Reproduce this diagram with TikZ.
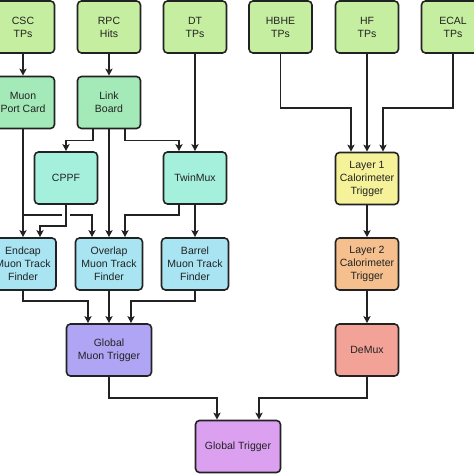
\documentclass[tikz,border=0pt]{standalone}
\usepackage{fontspec}
\setmainfont{Liberation Sans}
\usetikzlibrary{arrows.meta,calc}
\definecolor{tpgreen}{HTML}{C6EEA0}
\definecolor{boardgreen}{HTML}{A3EAB8}
\definecolor{aqua}{HTML}{A5F0DC}
\definecolor{tfblue}{HTML}{A8E4F2}
\definecolor{gmtpurple}{HTML}{B0A4F4}
\definecolor{gtpink}{HTML}{DBA0F0}
\definecolor{lyellow}{HTML}{F6F29A}
\definecolor{lorange}{HTML}{F5C08E}
\definecolor{dmred}{HTML}{F2A296}
\definecolor{ink}{HTML}{222222}
\begin{document}
\begin{tikzpicture}[x=1pt,y=-1pt,
  box/.style={draw=ink,line width=1.6pt,rounded corners=4pt,minimum width=63pt,minimum height=52pt,
    align=center,inner sep=1pt,text=ink,font=\fontsize{10.5}{13}\selectfont},
  arr/.style={draw=ink,line width=1.6pt,-{Stealth[length=7pt,width=7pt,inset=1.5pt]}},
  ln/.style={draw=ink,line width=1.6pt}]
\useasboundingbox[fill=white] (0,0) rectangle (474,474);
% top row
\node[box,fill=tpgreen] (csc) at (23,27) {CSC\\TPs};
\node[box,fill=tpgreen] (rpc) at (109,27) {RPC\\Hits};
\node[box,fill=tpgreen] (dt) at (195,27) {DT\\TPs};
\node[box,fill=tpgreen] (hbhe) at (280.5,27) {HBHE\\TPs};
\node[box,fill=tpgreen] (hf) at (367,27) {HF\\TPs};
\node[box,fill=tpgreen] (ecal) at (453,27) {ECAL\\TPs};
% second row
\node[box,fill=boardgreen] (mpc) at (23,102.5) {Muon\\Port Card};
\node[box,fill=boardgreen] (link) at (109,102.5) {Link\\Board};
% third
\node[box,fill=aqua] (cppf) at (66,178) {CPPF};
\node[box,fill=aqua] (twinmux) at (195,178) {TwinMux};
\node[box,fill=lyellow] (l1) at (367,178.5) {Layer 1\\Calorimeter\\Trigger};
% track finders
\node[box,fill=tfblue,minimum width=66pt] (emtf) at (23,264) {Endcap\\Muon Track\\Finder};
\node[box,fill=tfblue,minimum width=67pt] (omtf) at (109,264) {Overlap\\Muon Track\\Finder};
\node[box,fill=tfblue,minimum width=67pt] (bmtf) at (195,264) {Barrel\\Muon Track\\Finder};
\node[box,fill=lorange] (l2) at (367,264) {Layer 2\\Calorimeter\\Trigger};
% global muon
\node[box,fill=gmtpurple,minimum width=85pt] (gmt) at (109,350) {Global\\Muon Trigger};
\node[box,fill=dmred] (demux) at (367,350) {DeMux};
\node[box,fill=gtpink,minimum width=85pt] (gt) at (238,446.5) {Global Trigger};
% connectors
\draw[arr] (csc.south) -- (mpc.north);
\draw[arr] (rpc.south) -- (link.north);
\draw[arr] ($(link.south)+(-16,0)$) -- ++(0,11) -| (cppf.north);
\draw[arr] ($(link.south)+(16,0)$) -- ++(0,11) -| ($(twinmux.north)+(-16,0)$);
\draw[arr] (dt.south) -- (twinmux.north);
\draw[arr] (link.south) -- (omtf.north);
\draw[arr] (mpc.south) -- (emtf.north);
\coordinate (mb) at ($(emtf.north)+(0,-22)$);
\coordinate (gapl) at ($(mb)+(39,0)$);
\coordinate (gapr) at ($(mb)+(47,0)$);
\draw[ln] (mb) -- (gapl);
\draw[arr] (gapr) -| ($(omtf.north)+(-17,0)$);
\draw[arr] (cppf.south) -- ++(0,21) -| ($(emtf.north)+(17,0)$);
\draw[arr] ($(twinmux.south)+(-16,0)$) -- ++(0,10) -| ($(omtf.north)+(16,0)$);
\draw[arr] (twinmux.south) -- (bmtf.north);
\draw[arr] (emtf.south) -- ++(0,10) -| ($(gmt.north)+(-21,0)$);
\draw[arr] (omtf.south) -- (gmt.north);
\draw[arr] (bmtf.south) -- ++(0,10) -| ($(gmt.north)+(22,0)$);
\draw[arr] (gmt.south) -- ++(0,21) -| ($(gt.north)+(-21,0)$);
\draw[arr] (demux.south) -- ++(0,21) -| ($(gt.north)+(21,0)$);
\draw[arr] (hbhe.south) -- ++(0,54) -| ($(l1.north)+(-16,0)$);
\draw[arr] (hf.south) -- (l1.north);
\draw[arr] (ecal.south) -- ++(0,54) -| ($(l1.north)+(16,0)$);
\draw[arr] (l1.south) -- (l2.north);
\draw[arr] (l2.south) -- (demux.north);
\end{tikzpicture}
\end{document}
